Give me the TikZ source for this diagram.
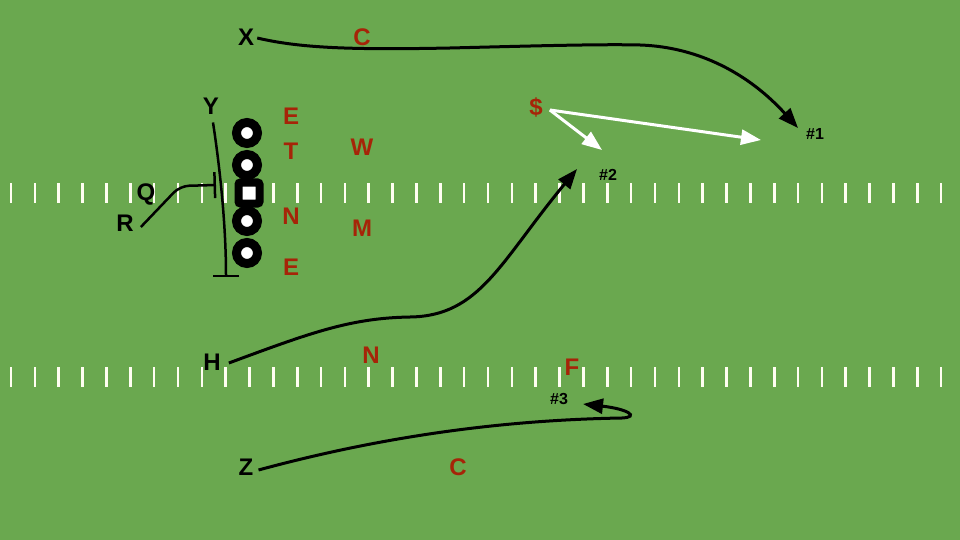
\documentclass[tikz,border=0pt]{standalone}
\usepackage{fontspec}
\setmainfont{Liberation Sans}
\newfontfamily\playfont{Liberation Sans Bold}
\usepackage{tikz}
\usetikzlibrary{arrows.meta}
\usepackage{color}
\definecolor{fieldgreen}{RGB}{106,168,79}
\definecolor{defred}{RGB}{166,36,8}
\colorlet{hashwhite}{white!95!yellow}

\tikzset{
    off/.style={font=\playfont\fontsize{24}{24}\selectfont, inner sep=0pt, text=black},
    def/.style={font=\playfont\fontsize{24}{24}\selectfont, inner sep=0pt, text=defred},
    spot/.style={font=\playfont\fontsize{16}{16}\selectfont, inner sep=0pt, text=black},
    lineman/.style={circle, draw=black, fill=white, line width=9pt, inner sep=0pt, minimum size=21pt},
    center/.style={rectangle, rounded corners=2pt, draw=black, fill=white, line width=8pt, inner sep=0pt, minimum size=21pt},
    route/.style={line width=3pt, black, -{Triangle[length=20pt,width=15pt]}},
    read/.style={line width=3pt, white, -{Triangle[length=20pt,width=15pt]}},
    block/.style={line width=2.5pt, black, -{Bar[width=26pt,line width=2.5pt]}}
}

\begin{document}
\begin{tikzpicture}[x=1pt, y=-1pt]
        \fill[fieldgreen] (0,0) rectangle (960,540);
        \useasboundingbox (0,0) rectangle (960,540);
        % hash marks
        \foreach \y in {183,367}{
            \foreach \i in {0,1,...,39}{
                \draw[hashwhite, line width=2.6pt] (11+\i*23.85,\y)--(11+\i*23.85,\y+20);
            }
        }
        % offensive line
        \foreach \y/\n in {133/lt,165/lg,221/rg,253/rt}{
            \node[lineman] (\n) at (247,\y) {};
        }
        \node[center] (c) at (249,193) {};
        % offense
        \node[off] (x) at (246,37) {X};
        \node[off] (y) at (211,106) {Y};
        \node[off] (q) at (146,194) {Q};
        \node[off] (r) at (125,223) {R};
        \node[off] (h) at (212,362) {H};
        \node[off] (z) at (246,467) {Z};
        % defense
        \node[def] (cbtop) at (362,37) {C};
        \node[def] (e1) at (291,116) {E};
        \node[def] (t) at (291,151) {T};
        \node[def] (w) at (362,147) {W};
        \node[def] (n1) at (291,216) {N};
        \node[def] (m) at (362,228) {M};
        \node[def] (e2) at (291,267) {E};
        \node[def] (n2) at (371,355) {N};
        \node[def] (f) at (572,367) {F};
        \node[def] (cbbot) at (458,467) {C};
        \node[def] (s) at (536,107) {\$};
        % spots
        \node[spot] (one) at (815,134) {\#1};
        \node[spot] (two) at (608,175) {\#2};
        \node[spot] (three) at (559,399) {\#3};
        \coordinate (oneend) at (798,128);
        \coordinate (twoend) at (577,169);
        \coordinate (threeend) at (583,404);
        \coordinate (readshort) at (602,150);
        \coordinate (readlong) at (761,140);
        \coordinate (ybar) at (226,277);
        \coordinate (qbar) at (216,185);
        % routes
        \draw[route] (x.east) ++(3,1) .. controls (300,48) and (350,50) .. (450,48)
            .. controls (530,46) and (600,44) .. (640,45)
            .. controls (700,47) and (750,75) .. (oneend);
        \draw[route] (h.east) ++(8,1) .. controls (310,333) and (350,318) .. (410,317)
            .. controls (480,316) and (500,262) .. (twoend);
        \draw[route] (z.east) ++(5,3) .. controls (380,437) and (500,420) .. (622,418)
            .. controls (640,417) and (628,409) .. (threeend);
        % reads
        \draw[read] (s.east) ++(7,3) -- (readshort);
        \draw[read] (s.east) ++(7,3) -- (readlong);
        % blocks
        \draw[block] (y.south) ++(2,8) .. controls (221,175) and (226,230) .. (ybar);
        \draw[block, rounded corners=9pt] (r.east) ++(7,4) -- (180,186) -- (qbar);
    \end{tikzpicture}
\end{document}
